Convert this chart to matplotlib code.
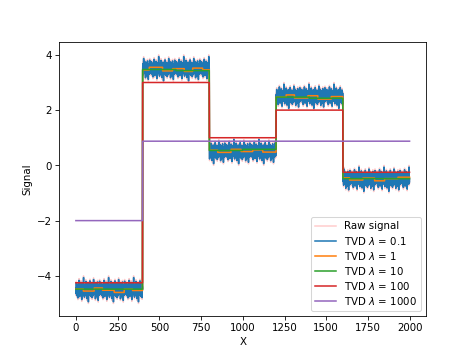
import numpy as np
import matplotlib
matplotlib.use('Agg')
import matplotlib.pyplot as plt

# 区間の境界と各区間の真の値
seg_edges = [0, 400, 800, 1200, 1600, 2000]
seg_levels = [-4.5, 3.5, 0.5, 2.5, -0.5]

# 生信号のノイズ（読み取った振れ幅を手で打ち込んだもの、繰り返して使う）
raw_noise = [
    0.12, -0.21, 0.05, 0.31, -0.08, -0.17, 0.22, 0.02, -0.29, 0.14,
    -0.03, 0.19, -0.36, 0.09, 0.27, -0.12, -0.01, 0.17, -0.22, 0.40,
    -0.06, 0.11, -0.15, -0.31, 0.07, 0.24, -0.19, 0.03, 0.15, -0.10,
    0.33, -0.26, 0.01, 0.18, -0.07, -0.42, 0.13, 0.06, -0.16, 0.21,
    -0.04, 0.28, -0.11, 0.08, -0.24, 0.16, 0.50, -0.09, -0.18, 0.04,
    0.10, -0.33, 0.20, -0.02, 0.25, -0.14, 0.09, -0.27, 0.13, -0.05,
    0.36, -0.20, 0.02, -0.12, 0.19, -0.38, 0.07, 0.23, -0.09, 0.00,
    -0.23, 0.15, 0.30, -0.13, 0.05, -0.50, 0.11, 0.17, -0.06, 0.26,
    -0.16, 0.03, -0.25, 0.12, 0.38, -0.08, -0.19, 0.06, 0.22, -0.30,
    0.09, -0.02, 0.14, -0.21, 0.29, -0.11, 0.04, -0.35, 0.18, 0.01,
    -0.14, 0.24, -0.05, 0.10, -0.28, 0.16, 0.43, -0.17, 0.02, -0.09,
    0.20, -0.23, 0.08, 0.32, -0.12, -0.03, 0.13, -0.39, 0.05, 0.21,
    -0.07, 0.15, -0.20, 0.27, -0.01, -0.32, 0.11, 0.06, -0.15, 0.34,
    -0.24, 0.04, 0.19, -0.10, -0.45, 0.14, 0.09, -0.18, 0.23, -0.03,
    0.12, -0.26, 0.37, -0.08, 0.01, -0.13, 0.25, -0.22, 0.07, -0.04,
]

# TVD lambda=0.1 の残りの揺れ（生信号より少し小さい）
tvd01_noise = [
    0.06, -0.15, 0.00, 0.25, -0.02, -0.11, 0.16, 0.00, -0.23, 0.08,
    0.00, 0.13, -0.30, 0.03, 0.21, -0.06, 0.00, 0.11, -0.16, 0.34,
    0.00, 0.05, -0.09, -0.25, 0.01, 0.18, -0.13, 0.00, 0.09, -0.04,
    0.27, -0.20, 0.00, 0.12, -0.01, -0.36, 0.07, 0.00, -0.10, 0.15,
    0.00, 0.22, -0.05, 0.02, -0.18, 0.10, 0.44, -0.03, -0.12, 0.00,
    0.04, -0.27, 0.14, 0.00, 0.19, -0.08, 0.03, -0.21, 0.07, 0.00,
    0.30, -0.14, 0.00, -0.06, 0.13, -0.32, 0.01, 0.17, -0.03, 0.00,
    -0.17, 0.09, 0.24, -0.07, 0.00, -0.44, 0.05, 0.11, 0.00, 0.20,
    -0.10, 0.00, -0.19, 0.06, 0.32, -0.02, -0.13, 0.00, 0.16, -0.24,
    0.03, 0.00, 0.08, -0.15, 0.23, -0.05, 0.00, -0.29, 0.12, 0.00,
    -0.08, 0.18, 0.00, 0.04, -0.22, 0.10, 0.37, -0.11, 0.00, -0.03,
    0.14, -0.17, 0.02, 0.26, -0.06, 0.00, 0.07, -0.33, 0.00, 0.15,
    -0.01, 0.09, -0.14, 0.21, 0.00, -0.26, 0.05, 0.00, -0.09, 0.28,
    -0.18, 0.00, 0.13, -0.04, -0.39, 0.08, 0.03, -0.12, 0.17, 0.00,
    0.06, -0.20, 0.31, -0.02, 0.00, -0.07, 0.19, -0.16, 0.01, 0.00,
]

# TVD lambda=1 （細かい段）
tvd1_edges = [0, 45, 110, 160, 230, 290, 340,
              400, 440, 520, 580, 650, 700, 760,
              800, 850, 930, 990, 1060, 1120,
              1200, 1260, 1310, 1390, 1450, 1530,
              1600, 1640, 1720, 1790, 1850, 1930, 2000]
tvd1_vals = [-4.47, -4.55, -4.44, -4.52, -4.60, -4.48, -4.53,
             3.45, 3.55, 3.42, 3.50, 3.40, 3.52, 3.46,
             0.55, 0.47, 0.58, 0.50, 0.56, 0.48,
             2.47, 2.55, 2.44, 2.52, 2.40, 2.49,
             -0.45, -0.53, -0.46, -0.56, -0.48, -0.43]

# TVD lambda=10
tvd10_edges = [0, 400, 600, 800, 1000, 1200, 1400, 1600, 2000]
tvd10_vals = [-4.48, 3.47, 3.43, 0.54, 0.58, 2.47, 2.43, -0.48]

# TVD lambda=100
tvd100_edges = [0, 400, 800, 1200, 1600, 2000]
tvd100_vals = [-4.25, 3.0, 1.0, 2.0, -0.25]

# TVD lambda=1000
tvd1000_edges = [0, 400, 2000]
tvd1000_vals = [-2.0, 0.875]

n = seg_edges[-1]
x = np.arange(n)
base = np.repeat(seg_levels, np.diff(seg_edges))
raw = base + np.resize(raw_noise, n)
tvd01 = base + np.resize(tvd01_noise, n)


def steps(edges, vals):
    return np.repeat(vals, np.diff(edges))


plt.figure(figsize=(6.4, 4.8), dpi=74)
plt.plot(x, raw, 'r', alpha=0.2, label='Raw signal')
plt.plot(x, tvd01, label=r'TVD $\lambda$ = 0.1')
plt.plot(x, steps(tvd1_edges, tvd1_vals), label=r'TVD $\lambda$ = 1')
plt.plot(x, steps(tvd10_edges, tvd10_vals), label=r'TVD $\lambda$ = 10')
plt.plot(x, steps(tvd100_edges, tvd100_vals), label=r'TVD $\lambda$ = 100')
plt.plot(x, steps(tvd1000_edges, tvd1000_vals), label=r'TVD $\lambda$ = 1000')
plt.xlabel('X')
plt.ylabel('Signal')
plt.legend(loc='lower right', labelspacing=0.3)
plt.savefig('out.png', dpi=74)
